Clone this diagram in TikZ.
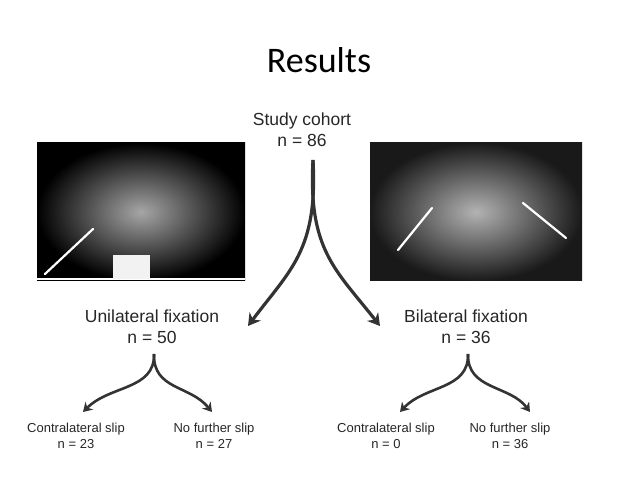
\documentclass[tikz,border=0pt]{standalone}
\usepackage{fontspec}
\setmainfont{Liberation Sans}
\newfontfamily\titlefont{Carlito}
\usetikzlibrary{arrows.meta}
\begin{document}
\begin{tikzpicture}[x=1pt,y=-1pt,
  lbl/.style={font=\fontsize{17.5}{21}\selectfont,align=center,text=black!85},
  small/.style={font=\fontsize{13}{15.5}\selectfont,align=center,text=black!85},
  bigarrow/.style={line width=3.2pt,black!80,-{Stealth[length=12pt,width=14pt]}},
  smallarrow/.style={line width=2.6pt,black!80,-{Stealth[length=9pt,width=11pt]}},
  screw/.style={white,line width=2.2pt,line cap=round}]
\useasboundingbox (0,0) rectangle (638,478);
\node[font=\titlefont\fontsize{36}{40}\selectfont] (title) at (319,60) {Results};
\node[lbl] (cohort) at (302,130) {Study cohort\\n = 86};
% X-ray panels
\shade[inner color=gray!70,outer color=black] (37,143) rectangle (245,281) ;
\shade[inner color=gray!60,outer color=black!90] (370,143) rectangle (582,281);
\draw[white,line width=1.5pt] (37,279) -- (245,279);
\fill[white!90!gray] (113,255) rectangle (150,279);
\draw[screw] (45,274) -- (93,229);
\draw[screw] (398,250) -- (432,208);
\draw[screw] (523,203) -- (566,238);
% level 2
\node[lbl] (uni) at (152,327) {Unilateral fixation\\n = 50};
\node[lbl] (bi) at (466,327) {Bilateral fixation\\n = 36};
\coordinate (s) at (313,160);
\coordinate (ul) at (248,326);
\coordinate (br) at (380,326);
\draw[bigarrow] (s) .. controls (318,250) and (290,270) .. (ul);
\draw[bigarrow] (s) .. controls (308,250) and (336,270) .. (br);
% level 3
\node[small] (l1) at (76,436) {Contralateral slip\\n = 23};
\node[small] (l2) at (214,436) {No further slip\\n = 27};
\node[small] (r1) at (386,436) {Contralateral slip\\n = 0};
\node[small] (r2) at (510,436) {No further slip\\n = 36};
\coordinate (ua) at (154,354);
\coordinate (ba) at (468,354);
\coordinate (t1) at (83,412);
\coordinate (t2) at (212,412);
\coordinate (t3) at (400,412);
\coordinate (t4) at (530,412);
\draw[smallarrow] (ua) .. controls (155,390) and (110,385) .. (t1);
\draw[smallarrow] (ua) .. controls (153,390) and (190,385) .. (t2);
\draw[smallarrow] (ba) .. controls (469,390) and (425,385) .. (t3);
\draw[smallarrow] (ba) .. controls (467,390) and (510,385) .. (t4);
\end{tikzpicture}
\end{document}
